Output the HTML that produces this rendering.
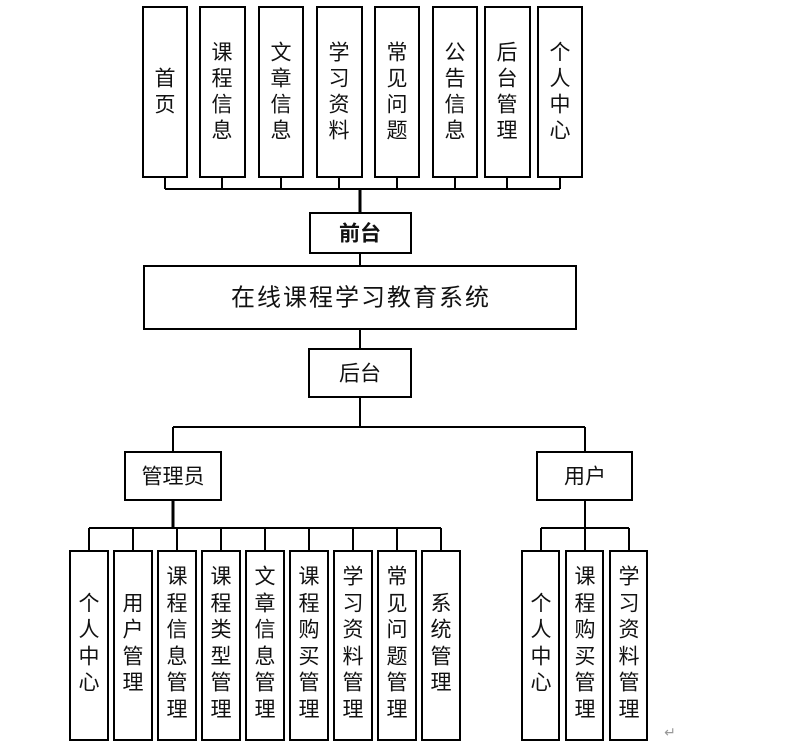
<!DOCTYPE html>
<html><head><meta charset="utf-8"><style>
html,body{margin:0;padding:0;background:#fff}
svg text{font-family:"Liberation Sans","Noto Sans CJK SC","WenQuanYi Zen Hei",sans-serif;fill:#111;text-anchor:middle;dominant-baseline:central}
</style></head><body>
<svg width="801" height="747" viewBox="0 0 801 747" xmlns="http://www.w3.org/2000/svg">
<g fill="#fff" stroke="#000" stroke-width="2">
<rect x="143" y="7" width="44" height="170"/>
<rect x="200" y="7" width="45" height="170"/>
<rect x="259" y="7" width="44" height="170"/>
<rect x="317" y="7" width="45" height="170"/>
<rect x="375" y="7" width="44" height="170"/>
<rect x="433" y="7" width="44" height="170"/>
<rect x="485" y="7" width="45" height="170"/>
<rect x="538" y="7" width="44" height="170"/>
<rect x="310" y="213" width="101" height="40"/>
<rect x="144" y="266" width="432" height="63"/>
<rect x="309" y="349" width="102" height="48"/>
<rect x="125" y="452" width="96" height="48"/>
<rect x="537" y="452" width="95" height="48"/>
<rect x="70" y="551" width="38" height="189"/>
<rect x="114" y="551" width="38" height="189"/>
<rect x="158" y="551" width="38" height="189"/>
<rect x="202" y="551" width="38" height="189"/>
<rect x="246" y="551" width="38" height="189"/>
<rect x="290" y="551" width="38" height="189"/>
<rect x="334" y="551" width="38" height="189"/>
<rect x="378" y="551" width="38" height="189"/>
<rect x="422" y="551" width="38" height="189"/>
<rect x="522" y="551" width="37" height="189"/>
<rect x="566" y="551" width="37" height="189"/>
<rect x="610" y="551" width="37" height="189"/>
</g>
<g stroke="#000" stroke-width="2" fill="none">
<path d="M165 177V189M222 177V189M281 177V189M339 177V189M397 177V189M455 177V189M507 177V189M560 177V189M165 189H560"/>
<path d="M360 189V213" stroke-width="3"/>
<path d="M360 253V266M360 329V349M360 397V427M173 427H585M173 427V452M585 427V452"/>
<path d="M173 500V528" stroke-width="3"/>
<path d="M89 528H441M89 528V551M133 528V551M177 528V551M221 528V551M265 528V551M309 528V551M353 528V551M397 528V551M441 528V551"/>
<path d="M585 500V551M541 528H629M541 528V551M629 528V551"/>
</g>
<g font-size="21">
<text x="165" y="79">首</text><text x="165" y="105">页</text>
<text x="222" y="53">课</text><text x="222" y="79">程</text><text x="222" y="105">信</text><text x="222" y="131">息</text>
<text x="281" y="53">文</text><text x="281" y="79">章</text><text x="281" y="105">信</text><text x="281" y="131">息</text>
<text x="339" y="53">学</text><text x="339" y="79">习</text><text x="339" y="105">资</text><text x="339" y="131">料</text>
<text x="397" y="53">常</text><text x="397" y="79">见</text><text x="397" y="105">问</text><text x="397" y="131">题</text>
<text x="455" y="53">公</text><text x="455" y="79">告</text><text x="455" y="105">信</text><text x="455" y="131">息</text>
<text x="507" y="53">后</text><text x="507" y="79">台</text><text x="507" y="105">管</text><text x="507" y="131">理</text>
<text x="560" y="53">个</text><text x="560" y="79">人</text><text x="560" y="105">中</text><text x="560" y="131">心</text>
</g>
<text x="360" y="234" font-size="21" font-weight="bold">前台</text>
<text x="361" y="298" font-size="24" letter-spacing="2">在线课程学习教育系统</text>
<text x="360" y="374" font-size="21">后台</text>
<text x="173" y="477" font-size="21">管理员</text>
<text x="585" y="477" font-size="21">用户</text>
<g font-size="21">
<text x="89" y="604">个</text><text x="89" y="630">人</text><text x="89" y="657">中</text><text x="89" y="683">心</text>
<text x="133" y="604">用</text><text x="133" y="630">户</text><text x="133" y="657">管</text><text x="133" y="683">理</text>
<text x="177" y="577">课</text><text x="177" y="604">程</text><text x="177" y="630">信</text><text x="177" y="657">息</text><text x="177" y="683">管</text><text x="177" y="710">理</text>
<text x="221" y="577">课</text><text x="221" y="604">程</text><text x="221" y="630">类</text><text x="221" y="657">型</text><text x="221" y="683">管</text><text x="221" y="710">理</text>
<text x="265" y="577">文</text><text x="265" y="604">章</text><text x="265" y="630">信</text><text x="265" y="657">息</text><text x="265" y="683">管</text><text x="265" y="710">理</text>
<text x="309" y="577">课</text><text x="309" y="604">程</text><text x="309" y="630">购</text><text x="309" y="657">买</text><text x="309" y="683">管</text><text x="309" y="710">理</text>
<text x="353" y="577">学</text><text x="353" y="604">习</text><text x="353" y="630">资</text><text x="353" y="657">料</text><text x="353" y="683">管</text><text x="353" y="710">理</text>
<text x="397" y="577">常</text><text x="397" y="604">见</text><text x="397" y="630">问</text><text x="397" y="657">题</text><text x="397" y="683">管</text><text x="397" y="710">理</text>
<text x="441" y="604">系</text><text x="441" y="630">统</text><text x="441" y="657">管</text><text x="441" y="683">理</text>
<text x="541" y="604">个</text><text x="541" y="630">人</text><text x="541" y="657">中</text><text x="541" y="683">心</text>
<text x="585" y="577">课</text><text x="585" y="604">程</text><text x="585" y="630">购</text><text x="585" y="657">买</text><text x="585" y="683">管</text><text x="585" y="710">理</text>
<text x="629" y="577">学</text><text x="629" y="604">习</text><text x="629" y="630">资</text><text x="629" y="657">料</text><text x="629" y="683">管</text><text x="629" y="710">理</text>
</g>
<text x="670" y="732" font-size="14" style="fill:#999">↵</text>
</svg>
</body></html>
